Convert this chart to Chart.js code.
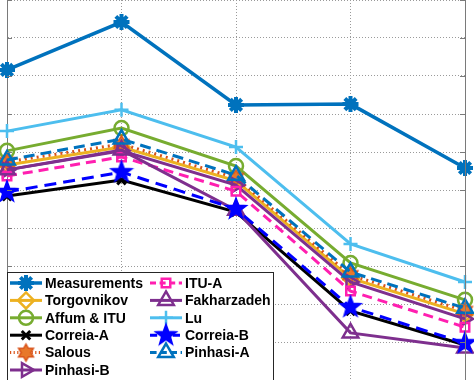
<!DOCTYPE html>
<html>
<head>
<meta charset="utf-8">
<script src="https://cdn.jsdelivr.net/npm/chart.js@4/dist/chart.umd.min.js"></script>
<style>
  body { margin: 0; background: #fff; }
  #wrap { width: 474px; height: 380px; }
</style>
</head>
<body>
<div id="wrap"><canvas id="lossChart" width="474" height="380"></canvas></div>
<script>
// x positions (axis labels are cropped out of the picture)
const categories = ['1', '2', '3', '4', '5'];

// y values in grid units (one dotted grid step = 1)
const measurements = [8.16, 9.42, 7.24, 7.26, 5.58];
const torgovnikov  = [5.66, 6.13, 5.24, 2.68, 1.74];
const affumItu     = [6.03, 6.63, 5.63, 3.08, 2.11];
const correiaA     = [4.84, 5.26, 4.42, 1.82, 0.92];
const salous       = [5.74, 6.21, 5.32, 2.76, 1.82];
const pinhasiB     = [5.53, 6.03, 5.13, 2.58, 1.61];
const ituA         = [5.37, 5.87, 4.97, 2.34, 1.39];
const fakharzadeh  = [5.53, 6.05, 4.47, 1.24, 0.84];
const lu           = [6.55, 7.11, 6.13, 3.58, 2.58];
const correiaB     = [4.95, 5.47, 4.50, 1.92, 0.97];
const pinhasiA     = [5.79, 6.34, 5.39, 2.84, 1.89];

const yTicks = [0, 1, 2, 3, 4, 5, 6, 7, 8, 9, 10];

/**
 * Build a star-shaped marker on a small canvas
 */
function starMarker(points, outer, inner, fill, stroke) {
    const size = Math.ceil(outer * 2 + 4);
    const c = document.createElement('canvas');
    c.width = size;
    c.height = size;
    const g = c.getContext('2d');
    const cx = size / 2, cy = size / 2;
    g.beginPath();
    for (let i = 0; i < points * 2; i++) {
        const r = i % 2 === 0 ? outer : inner;
        const a = -Math.PI / 2 + i * Math.PI / points;
        const px = cx + r * Math.cos(a);
        const py = cy + r * Math.sin(a);
        if (i === 0) g.moveTo(px, py); else g.lineTo(px, py);
    }
    g.closePath();
    g.fillStyle = fill;
    g.fill();
    g.lineWidth = 1.5;
    g.strokeStyle = stroke;
    g.stroke();
    return c;
}

const pentagram = starMarker(5, 11, 4.5, '#0000ff', '#0000ff');
const hexagram = starMarker(6, 8.5, 4.8, '#e8782a', '#d95319');

function series(label, data, color, opts) {
    return Object.assign({
        label: label,
        data: data,
        borderColor: color,
        backgroundColor: 'rgba(255,255,255,0)',
        pointBorderColor: color,
        pointBackgroundColor: 'rgba(255,255,255,0)',
        borderWidth: 3,
        pointBorderWidth: 2.5,
        pointRadius: 7,
        pointStyle: 'circle',
        tension: 0,
        clip: false
    }, opts || {});
}

const datasets = [
    series('Measurements', measurements, '#0072bd', { pointStyle: 'star', pointRadius: 8, pointBorderWidth: 4, borderWidth: 3.5 }),
    series('Torgovnikov', torgovnikov, '#edb120', { pointStyle: 'rectRot', pointRadius: 8 }),
    series('Affum & ITU', affumItu, '#77ac30', { pointStyle: 'circle', pointRadius: 7 }),
    series('Correia-A', correiaA, '#000000', { pointStyle: 'crossRot', pointRadius: 6, pointBorderWidth: 3 }),
    series('Salous', salous, '#d95319', { borderDash: [2, 4], pointStyle: hexagram }),
    series('Pinhasi-B', pinhasiB, '#7e2f8e', { pointStyle: 'triangle', pointRotation: 90, pointRadius: 8 }),
    series('ITU-A', ituA, '#ff1fb0', { borderDash: [10, 6], pointStyle: 'rect', pointRadius: 6 }),
    series('Fakharzadeh', fakharzadeh, '#7e2f8e', { pointStyle: 'triangle', pointRadius: 9 }),
    series('Lu', lu, '#4dbeee', { pointStyle: 'cross', pointRadius: 7 }),
    series('Correia-B', correiaB, '#0000ff', { borderDash: [12, 7], pointStyle: pentagram }),
    series('Pinhasi-A', pinhasiA, '#0072bd', { borderDash: [11, 6], pointStyle: 'triangle', pointRadius: 9 })
];
// later series on top, as in the original figure
datasets.forEach((d, i) => { d.order = datasets.length - i; });

/**
 * Frame, inner ticks and two-column boxed legend
 */
const framePlugin = {
    id: 'frame',
    afterDraw(chart) {
        const ctx = chart.ctx;
        const area = chart.chartArea;
        const yScale = chart.scales.y;
        ctx.save();

        // right border and inner tick marks
        ctx.strokeStyle = '#7a7a7a';
        ctx.lineWidth = 1;
        ctx.setLineDash([]);
        ctx.beginPath();
        ctx.moveTo(area.right + 0.5, area.top);
        ctx.lineTo(area.right + 0.5, area.bottom);
        yTicks.forEach(v => {
            const py = Math.round(yScale.getPixelForValue(v)) + 0.5;
            ctx.moveTo(area.left, py);
            ctx.lineTo(area.left + 5, py);
            ctx.moveTo(area.right, py);
            ctx.lineTo(area.right - 5, py);
        });
        ctx.stroke();

        // legend box
        const boxX = area.left, boxY = 272, boxW = 266, boxH = 120;
        ctx.fillStyle = '#ffffff';
        ctx.fillRect(boxX, boxY, boxW, boxH);
        ctx.strokeStyle = '#262626';
        ctx.strokeRect(boxX + 0.5, boxY + 0.5, boxW, boxH);

        const rowH = 17.4;
        const firstRow = 283;
        const colX = [10, 150];
        ctx.font = 'bold 14px "Liberation Sans", Arial, sans-serif';
        ctx.textBaseline = 'middle';
        chart.data.datasets.forEach((ds, i) => {
            const col = i < 6 ? 0 : 1;
            const row = i < 6 ? i : i - 6;
            const x = colX[col];
            const y = firstRow + row * rowH;
            ctx.strokeStyle = ds.borderColor;
            ctx.lineWidth = ds.borderWidth;
            ctx.setLineDash(ds.borderDash ? ds.borderDash.map(v => v * 0.6) : []);
            ctx.beginPath();
            ctx.moveTo(x, y);
            ctx.lineTo(x + 32, y);
            ctx.stroke();
            ctx.setLineDash([]);
            ctx.strokeStyle = ds.pointBorderColor;
            ctx.fillStyle = ds.pointBackgroundColor;
            ctx.lineWidth = ds.pointBorderWidth;
            Chart.helpers.drawPoint(ctx, {
                pointStyle: ds.pointStyle,
                radius: ds.pointRadius,
                rotation: ds.pointRotation || 0,
                borderWidth: ds.pointBorderWidth
            }, x + 16, y);
            ctx.fillStyle = '#000000';
            ctx.fillText(ds.label, x + 35, y + 1);
        });
        ctx.restore();
    }
};

new Chart(document.getElementById('lossChart').getContext('2d'), {
    type: 'line',
    data: { labels: categories, datasets: datasets },
    options: {
        responsive: false,
        animation: false,
        layout: { autoPadding: false, padding: { left: 7, right: 9, top: 0, bottom: 0 } },
        plugins: {
            legend: { display: false },
            tooltip: { enabled: false }
        },
        scales: {
            x: {
                offset: false,
                ticks: { display: false },
                grid: { color: '#9a9a9a', drawTicks: false, lineWidth: 1 },
                border: { display: false, dash: [1, 2] }
            },
            y: {
                min: 0,
                max: 10,
                ticks: { display: false, stepSize: 1 },
                grid: { color: '#9a9a9a', drawTicks: false, lineWidth: 1 },
                border: { display: true, color: '#7a7a7a', width: 1, dash: [1, 2] }
            }
        }
    },
    plugins: [framePlugin]
});
</script>
</body>
</html>
